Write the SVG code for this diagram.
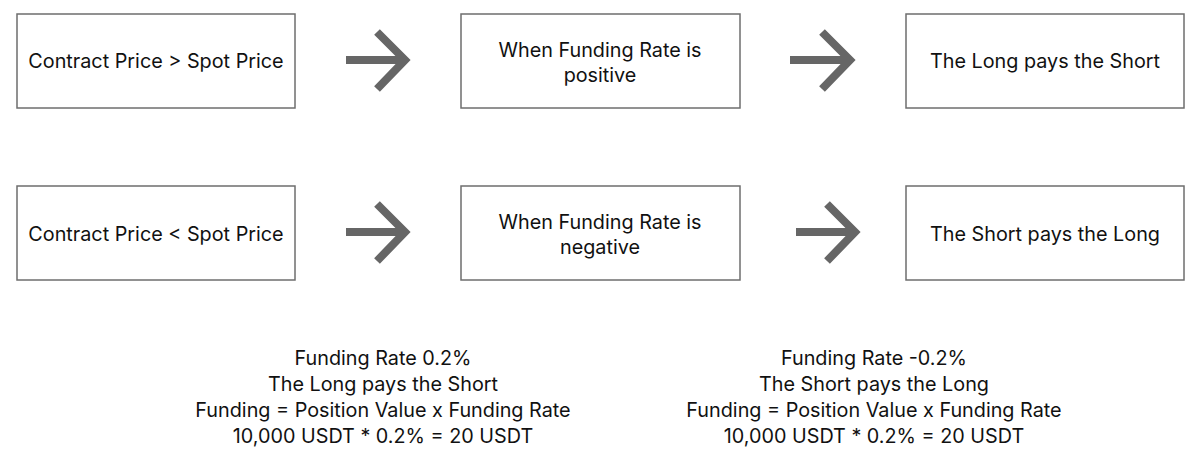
<svg xmlns="http://www.w3.org/2000/svg" width="1200" height="453" viewBox="0 0 1200 453">
<style>
.box{fill:#fff;stroke:#6e6e6e;stroke-width:1.5}
text{font-family:Inter,"Liberation Sans",sans-serif;font-size:19.8px;fill:#111;text-anchor:middle}
.arr{fill:none;stroke:#666;stroke-width:8}
</style>
<rect width="1200" height="453" fill="#fff"/>
<g id="n1"><rect class="box" x="17" y="14" width="278" height="94"/><text x="156" y="68">Contract Price &gt; Spot Price</text></g>
<g id="n2"><rect class="box" x="461" y="14" width="279" height="94"/><text x="600" y="57">When Funding Rate is</text><text x="600" y="82">positive</text></g>
<g id="n3"><rect class="box" x="906" y="14" width="278" height="94"/><text x="1045" y="68">The Long pays the Short</text></g>
<g id="n4"><rect class="box" x="17" y="186" width="278" height="94"/><text x="156" y="241">Contract Price &lt; Spot Price</text></g>
<g id="n5"><rect class="box" x="461" y="186" width="279" height="94"/><text x="600" y="229">When Funding Rate is</text><text x="600" y="254">negative</text></g>
<g id="n6"><rect class="box" x="906" y="186" width="278" height="94"/><text x="1045" y="241">The Short pays the Long</text></g>
<g id="connectors">
<path class="arr" d="M346 60H404M377 32L405 60L377 89"/>
<path class="arr" d="M790 60H849M822 32L850 60L822 89"/>
<path class="arr" d="M346 232H404M377 204L405 232L377 261"/>
<path class="arr" d="M796 232H854M827 204L855 232L827 261"/>
</g>
<g id="notes">
<text x="383" y="365">Funding Rate 0.2%</text>
<text x="383" y="391">The Long pays the Short</text>
<text x="383" y="417">Funding = Position Value x Funding Rate</text>
<text x="383" y="443">10,000 USDT * 0.2% = 20 USDT</text>
<text x="874" y="365">Funding Rate -0.2%</text>
<text x="874" y="391">The Short pays the Long</text>
<text x="874" y="417">Funding = Position Value x Funding Rate</text>
<text x="874" y="443">10,000 USDT * 0.2% = 20 USDT</text>
</g>
</svg>
